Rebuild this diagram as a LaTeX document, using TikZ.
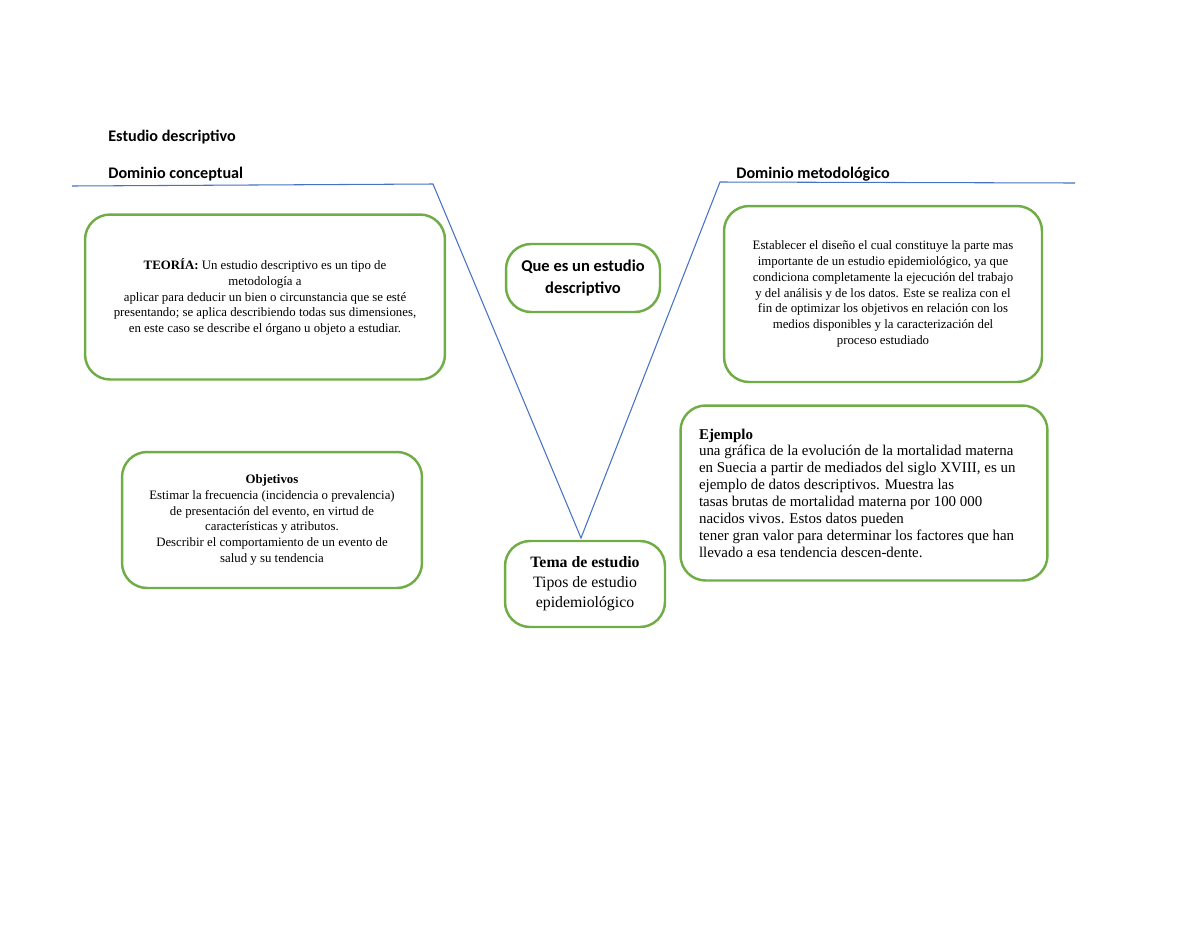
\documentclass[tikz,border=0pt]{standalone}
\usepackage{fontspec}
\setmainfont{Liberation Serif}
\newfontfamily\calibri{Carlito}
\usepackage{tikz}
\usetikzlibrary{positioning}
\definecolor{verde}{HTML}{70AD47}
\definecolor{azul}{HTML}{4472C4}

\begin{document}
\begin{tikzpicture}[x=0.02cm,y=-0.02cm,
  caja/.style={draw=verde,line width=1.4pt,rounded corners=0.5cm,align=center,inner sep=2pt},
  rama/.style={draw=azul,line width=0.6pt},
  titulo/.style={anchor=west,font=\calibri\bfseries\fontsize{9.2}{11}\selectfont,inner sep=0pt}]
\useasboundingbox (0,0) rectangle (1200,927);
% encabezados
\node[titulo] (est) at (108,137) {Estudio descriptivo};
\node[titulo] (dcon) at (108,174) {Dominio conceptual};
\node[titulo] (dmet) at (736,174) {Dominio metodológico};
% la V
\coordinate (izqA) at (72,186);
\coordinate (izqB) at (433,184);
\coordinate (punta) at (581,538);
\coordinate (derB) at (720,182);
\coordinate (derA) at (1075,183);
\draw[rama] (izqA) -- (izqB) -- (punta) -- (derB) -- (derA);
% cajas
\node[caja,minimum width=7.2cm,minimum height=3.3cm,
  font=\fontsize{7.3}{9}\selectfont] (teoria) at (265,297) {\textbf{TEORÍA:} Un estudio descriptivo es un tipo de\\ metodología a\\
  aplicar para deducir un bien o circunstancia que se esté\\ presentando; se aplica describiendo todas sus dimensiones,\\
  en este caso se describe el órgano u objeto a estudiar.};
\node[caja,minimum width=6cm,minimum height=2.72cm,
  font=\fontsize{7.3}{9}\selectfont] (objetivos) at (272,520) {\textbf{Objetivos}\\
  Estimar la frecuencia (incidencia o prevalencia)\\ de presentación del evento, en virtud de\\ características y atributos.\\
  Describir el comportamiento de un evento de\\ salud y su tendencia};
\node[caja,minimum width=3.08cm,minimum height=1.36cm,
  font=\calibri\bfseries\fontsize{9.4}{12}\selectfont] (quees) at (583,278) {Que es un estudio\\ descriptivo};
\node[caja,minimum width=3.2cm,minimum height=1.72cm,
  font=\fontsize{9}{11.3}\selectfont] (tema) at (585,584) {\textbf{Tema de estudio}\\ Tipos de estudio\\ epidemiológico};
\node[caja,minimum width=6.36cm,minimum height=3.52cm,
  font=\fontsize{7.3}{9}\selectfont] (disenio) at (883,294) {Establecer el diseño el cual constituye la parte mas\\
  importante de un estudio epidemiológico, ya que\\ condiciona completamente la ejecución del trabajo\\
  y del análisis y de los datos. Este se realiza con el\\ fin de optimizar los objetivos en relación con los\\
  medios disponibles y la caracterización del\\ proceso estudiado};
\node[caja,minimum width=7.34cm,minimum height=3.5cm,text width=6.6cm,align=flush left,
  font=\fontsize{8.5}{9.6}\selectfont] (ejemplo) at (864,493) {\textbf{Ejemplo}\\
  una gráfica de la evolución de la mortalidad materna\\
  en Suecia a partir de mediados del siglo XVIII, es un\\
  ejemplo de datos descriptivos. Muestra las\\
  tasas brutas de mortalidad materna por 100 000\\
  nacidos vivos. Estos datos pueden\\
  tener gran valor para determinar los factores que han\\
  llevado a esa tendencia descen-dente.};
\end{tikzpicture}
\end{document}
